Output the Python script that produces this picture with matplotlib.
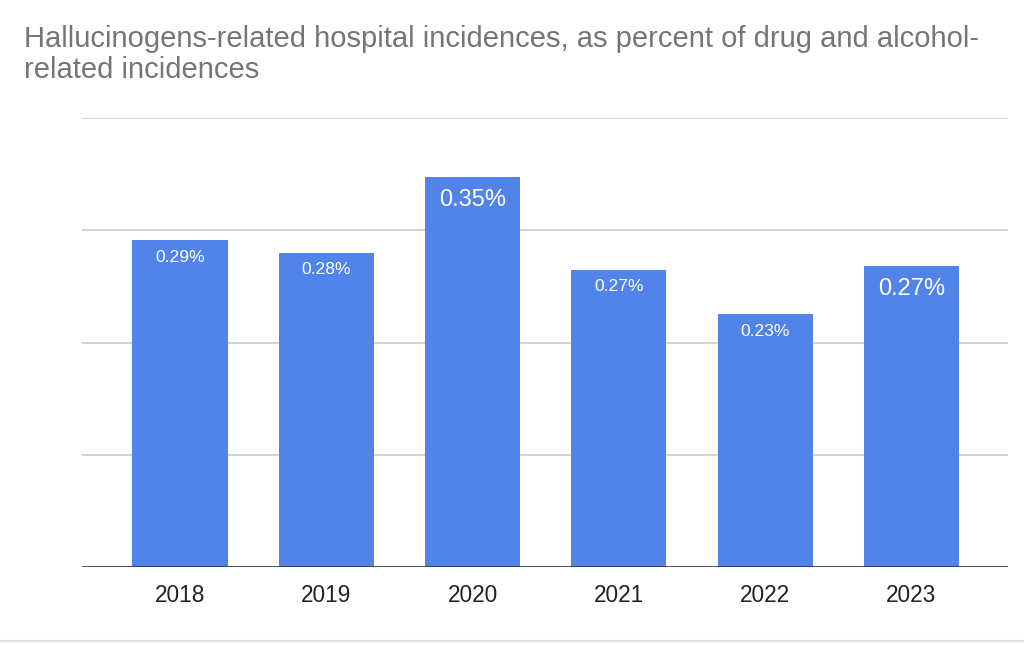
import matplotlib
matplotlib.use("Agg")
import matplotlib.pyplot as plt
from matplotlib.lines import Line2D

years = ["2018", "2019", "2020", "2021", "2022", "2023"]
values = [0.291, 0.280, 0.347, 0.265, 0.225, 0.268]
labels = ["0.29%", "0.28%", "0.35%", "0.27%", "0.23%", "0.27%"]
big_label = [False, False, True, False, False, True]
gridlines = [0.1, 0.2, 0.3, 0.4]

plt.rcParams['font.family'] = ['Liberation Sans', 'DejaVu Sans']

W, H = 1024, 658
fig = plt.figure(figsize=(W / 100, H / 100), dpi=100)
ax = fig.add_axes([82 / W, (H - 567) / H, (1008 - 82) / W, (567 - 118) / H])

x = list(range(len(years)))
ax.bar(x, values, width=0.65, color="#5183E9", zorder=3)
ax.set_xlim(-0.67, 5.66)
ax.set_ylim(0, 0.4)
for g in gridlines:
    ax.axhline(g, color="#CCCCCC", lw=1.2, zorder=1)
ax.axhline(0, color="#333333", lw=1.2, zorder=4)

for xi, v, lab, big in zip(x, values, labels, big_label):
    if big:
        ax.annotate(lab, (xi, v), xytext=(0, -23), textcoords="offset pixels",
                    ha="center", va="center", color="white", fontsize=17, zorder=5)
    else:
        ax.annotate(lab, (xi, v), xytext=(0, -17), textcoords="offset pixels",
                    ha="center", va="center", color="white", fontsize=12.6, zorder=5)

ax.set_xticks(x)
ax.set_xticklabels(years, fontsize=16.3, color="#222222")
ax.tick_params(axis="x", length=0, pad=12.5)
ax.set_yticks([])
for s in ax.spines.values():
    s.set_visible(False)

fig.text(24 / W, 1 - 47 / H, "Hallucinogens-related hospital incidences, as percent of drug and alcohol-",
         ha="left", va="baseline", fontsize=21, color="#757575")
fig.text(24 / W, 1 - 78 / H, "related incidences",
         ha="left", va="baseline", fontsize=21, color="#757575")

fig.add_artist(Line2D([0, 1], [1 - 641 / H, 1 - 641 / H], transform=fig.transFigure,
                      color="#E0E0E0", lw=1.5))

fig.savefig("out.png", dpi=100, facecolor="white")
